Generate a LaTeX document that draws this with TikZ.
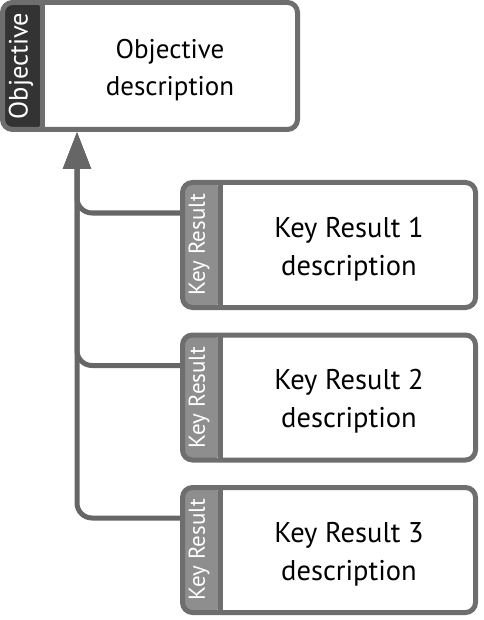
\documentclass[tikz,border=0pt]{standalone}
\usepackage{fontspec}
\setmainfont{PT Sans}
\usepackage{xcolor}
\usepackage{tikz}
\usetikzlibrary{positioning}
\usetikzlibrary{arrows.meta}

\definecolor{rimgray}{HTML}{6E6E6E}
\definecolor{objgray}{HTML}{333333}
\definecolor{krgray}{HTML}{8E8E8E}
\definecolor{linkgray}{HTML}{666666}

\tikzset{
    card/.style 2 args = {draw = rimgray, fill = white, line width = 5pt,
        rounded corners = 10pt, inner sep = 0pt,
        path picture = {
            \fill[#1] (path picture bounding box.north west)
                rectangle ([xshift = #2]path picture bounding box.south west);
            \draw[rimgray, line width = 5pt]
                ([xshift = #2]path picture bounding box.north west)
                -- ([xshift = #2]path picture bounding box.south west);
        }},
    objcard/.style = {card = {objgray}{40pt}, minimum width = 295pt, minimum height = 127pt},
    krcard/.style = {card = {krgray}{38pt}, minimum width = 293pt, minimum height = 125pt},
    tag/.style = {rotate = 90, text = white, inner sep = 0pt},
    desc/.style = {align = center, inner sep = 0pt},
    link/.style = {draw = linkgray, line width = 5pt, rounded corners = 15pt,
        -{Triangle[length = 37pt, width = 27pt]}}
}

\begin{document}
\begin{tikzpicture}[x = 1pt, y = -1pt]
        \useasboundingbox (0, 0) rectangle (483, 620);

        % objective
        \node[objcard] (obj) at (150, 66) {};
        \node[tag, font = \fontsize{26.5}{26.5}\selectfont] (objtag)
            at ([xshift = 21pt]obj.west) {Objective};
        \node[desc, font = \fontsize{27}{37}\selectfont] (objtext)
            at ([xshift = 20pt, yshift = -4pt]obj.center) {Objective\\description};

        % key results
        \node[krcard] (kr1) at (329, 245) {};
        \node[krcard, below = 22.5pt of kr1] (kr2) {};
        \node[krcard, below = 22.5pt of kr2] (kr3) {};

        \foreach \i in {1, 2, 3} {
            \node[tag, font = \fontsize{23}{23}\selectfont] (kr\i tag)
                at ([xshift = 19pt]kr\i.west) {Key Result};
            \node[desc, font = \fontsize{28.5}{38}\selectfont] (kr\i text)
                at ([xshift = 20pt, yshift = -4pt]kr\i.center) {Key Result \i\\description};
        }

        % links
        \coordinate (root) at ([xshift = 77pt]obj.south west);
        \foreach \i in {3, 2, 1}
            \draw[link] ([yshift = -33pt]kr\i.north west) -| (root);
    \end{tikzpicture}
\end{document}
